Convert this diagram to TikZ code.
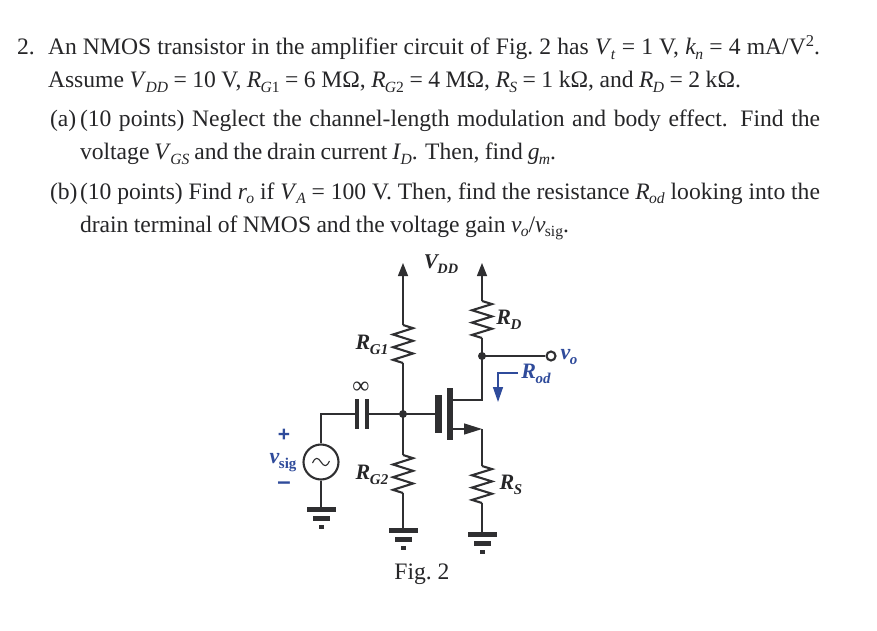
\documentclass[tikz,border=0pt]{standalone}
\usepackage{fontspec}
\setmainfont{Liberation Serif}
\newfontfamily\sgnfont{Liberation Sans}
\definecolor{ink}{HTML}{2F2F31}
\definecolor{txt}{HTML}{262628}
\definecolor{blu}{HTML}{2F4B9B}
\newcommand\isb[2]{\textit{#1}\kern-.03em\raisebox{-.2em}{\scalebox{.66}{#2}}}
\newcommand\bsb[2]{\textbf{\textit{#1}}\kern-.02em\raisebox{-.22em}{\scalebox{.68}{\textbf{#2}}}}
\newcommand\linefit[2]{\hbox to #1{\spaceskip=.25em plus 1em minus .15em\relax #2}}
\newcommand\zigv[2]{\draw[zig] (#1) -- ++(10,{#2/12}) -- ++(-20,{#2/6}) -- ++(20,{#2/6}) -- ++(-20,{#2/6}) -- ++(20,{#2/6}) -- ++(-20,{#2/6}) -- ++(10,{#2/12});}
\newcommand\gnd[1]{%
  \fill[ink] ($(#1)+(-14.5,0)$) rectangle ++(29,5);
  \fill[ink] ($(#1)+(-8.5,9)$) rectangle ++(17,5);
  \fill[ink] ($(#1)+(-2.5,17.5)$) rectangle ++(5,4.5);}
\usetikzlibrary{calc,arrows.meta}
\tikzset{
  x=1pt,y=-1pt,
  wire/.style={draw=ink,line width=1.4pt},
  zig/.style={draw=ink,line width=2.1pt,line join=miter},
  tline/.style={anchor=base west,inner sep=0pt,outer sep=0pt,text=txt,font=\fontsize{23.6}{24}\selectfont},
  plate/.style={rectangle,fill=ink,inner sep=0pt,outer sep=0pt},
  jdot/.style={circle,fill=ink,inner sep=0pt,outer sep=0pt,minimum size=8pt},
  lab/.style={inner sep=0pt,outer sep=0pt,text=txt,font=\fontsize{22}{22}\selectfont\bfseries\itshape},
  blab/.style={inner sep=0pt,outer sep=0pt,text=blu,font=\fontsize{22}{22}\selectfont\bfseries\itshape},
  railtip/.style={-{Triangle[length=13pt,width=10pt]}},
}
\begin{document}
\begin{tikzpicture}
\useasboundingbox[fill=white] (0,0) rectangle (877,631);

% text
\node[tline] (n2) at (17,55) {2.};
\node[tline] (l1) at (48,55) {\linefit{772pt}{An NMOS transistor in the amplifier circuit of Fig.\ 2 has \isb{V}{\textit{t}} = 1 V, \isb{k}{\textit{n}} = 4 mA/V\raisebox{.38em}{\scalebox{.7}{2}}.}};
\node[tline] (l2) at (48,88) {\linefit{693pt}{Assume \isb{V}{\textit{DD}} = 10 V, \isb{R}{\textit{G}1} = 6 MΩ, \isb{R}{\textit{G}2} = 4 MΩ, \isb{R}{\textit{S}} = 1 kΩ, and \isb{R}{\textit{D}} = 2 kΩ.}};
\node[tline] (pa) at (50,127) {(a)};
\node[tline] (l3) at (80,127) {\linefit{740pt}{(10 points) Neglect the channel-length modulation and body effect. Find the}};
\node[tline] (l4) at (80,160) {\linefit{476pt}{voltage \isb{V}{\textit{GS}} and the drain current \isb{I}{\textit{D}}. Then, find \isb{g}{\textit{m}}.}};
\node[tline] (pb) at (50,199) {(b)};
\node[tline] (l5) at (80,199) {\linefit{740pt}{(10 points) Find \isb{r}{\textit{o}} if \isb{V}{\textit{A}} = 100 V. Then, find the resistance \isb{R}{\textit{od}} looking into the}};
\node[tline] (l6) at (80,232) {\linefit{489pt}{drain terminal of NMOS and the voltage gain \isb{v}{\textit{o}}/\isb{v}{sig}.}};

% named points
\coordinate (vddl) at (403,263);
\coordinate (vddr) at (482,263);
\coordinate (rg1t) at (403,325);
\coordinate (rg1b) at (403,363);
\coordinate (rdt) at (482,301);
\coordinate (rdb) at (482,338);
\coordinate (rg2t) at (403,455);
\coordinate (rg2b) at (403,493);
\coordinate (rst) at (482,466);
\coordinate (rsb) at (482,503);
\coordinate (gndl) at (403,528);
\coordinate (gndr) at (482,532);
\coordinate (gnds) at (321,507);
\coordinate (dcor) at (482,400);
\coordinate (scor) at (482,429);
\coordinate (rodA) at (518,373);
\coordinate (rodB) at (498,402);

% components
\node[jdot] (dg) at (403,414) {};
\node[jdot] (dd) at (482,356) {};
\node[circle,draw=ink,line width=2.1pt,fill=white,inner sep=0pt,minimum size=9pt] (out) at (551,356) {};
\node[circle,draw=ink,line width=2.1pt,inner sep=0pt,minimum size=35pt] (sig) at (321,462) {};
\node[plate,minimum width=4.5pt,minimum height=30pt] (c1) at (357,414) {};
\node[plate,minimum width=4.5pt,minimum height=30pt] (c2) at (367,414) {};
\node[plate,minimum width=6.5pt,minimum height=38pt] (gate) at (438.5,414) {};
\node[plate,minimum width=6.5pt,minimum height=52pt] (chan) at (450,414) {};

% wires
\draw[wire,railtip] (rg1t) -- (vddl);
\draw[wire,railtip] (rdt) -- (vddr);
\zigv{rg1t}{38}
\zigv{rdt}{37}
\zigv{rg2t}{38}
\zigv{rst}{37}
\draw[wire] (rg1b) -- (dg.center) -- (rg2t);
\draw[wire] (rg2b) -- (gndl);
\draw[wire] (rdb) -- (dd.center) -- (dcor) -- (dcor -| chan.east);
\draw[wire] (dd.center) -- (out.west);
\draw[wire] (sig.north) |- (c1.west);
\draw[wire] (c2.east) -- (gate.west);
\draw[wire] (sig.south) -- (gnds);
\draw[wire,-{Triangle[length=18pt,width=11pt]}] (scor -| chan.east) -- (scor);
\draw[wire] (scor) -- (rst);
\draw[wire] (rsb) -- (gndr);
\gnd{gndl}
\gnd{gndr}
\gnd{gnds}
\draw[draw=blu,line width=1.4pt,-{Triangle[length=15pt,width=10pt]}] (rodA) -| (rodB);
\draw[ink,line width=1.1pt] (312.5,463) .. controls (315,457) and (318,457) .. (321,462) .. controls (324,467) and (327,467) .. (329.5,461);

% labels
\node[lab] (tvdd) at (441,264) {\fontsize{21}{21}\selectfont\bsb{V}{\textit{DD}}};
\node[lab] (trg1) at (372,345) {\bsb{R}{\textit{G}1}};
\node[lab] (trg2) at (372,475) {\bsb{R}{\textit{G}2}};
\node[lab] (trd) at (509,320) {\bsb{R}{\textit{D}}};
\node[lab] (trs) at (511,485) {\bsb{R}{\textit{S}}};
\node[blab] (trod) at (536,374) {\bsb{R}{\textit{od}}};
\node[blab] (tvo) at (569,357) {\bsb{v}{\textit{o}}};
\node[blab] (tsig) at (283,463) {\bsb{v}{\textup{sig}}};
\node[inner sep=0pt,text=blu,font=\sgnfont\fontsize{21}{21}\selectfont\bfseries] (tplus) at (284,435) {+};
\node[inner sep=0pt,text=blu,font=\sgnfont\fontsize{24}{24}\selectfont\bfseries] (tminus) at (284,486) {–};
\node[inner sep=0pt,text=txt,font=\fontsize{24}{24}\selectfont] (tinf) at (361,388) {∞};
\node[inner sep=0pt,text=txt,font=\fontsize{23.6}{24}\selectfont] (tfig) at (422,574) {Fig.\ 2};
\end{tikzpicture}
\end{document}
